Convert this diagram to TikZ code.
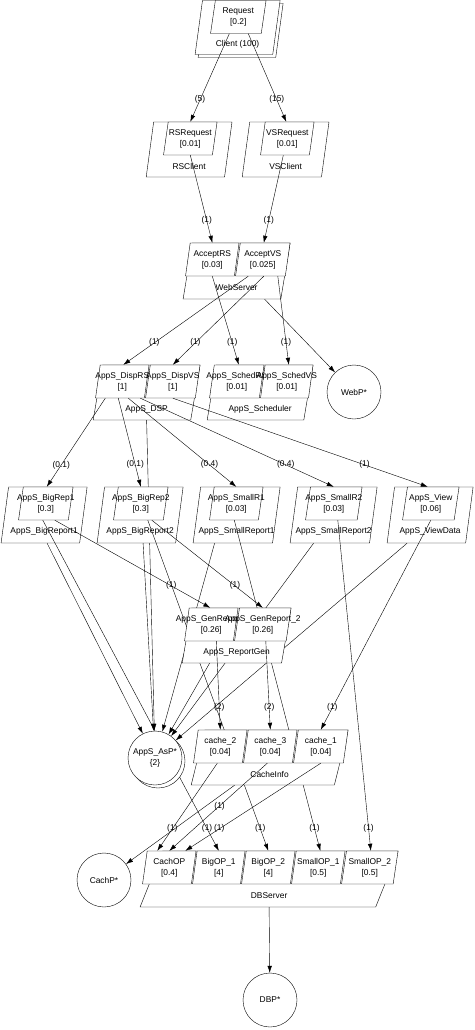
\documentclass[tikz,border=0pt]{standalone}
\usepackage{fontspec}
\setmainfont{Liberation Sans}
\usetikzlibrary{shapes.geometric,arrows.meta,calc}
% one layer for each row of tasks, so a lower row hides the arcs that run behind it
\pgfdeclarelayer{rowClient}
\pgfdeclarelayer{rowWeb}
\pgfdeclarelayer{rowApp}
\pgfdeclarelayer{rowReport}
\pgfdeclarelayer{rowGen}
\pgfdeclarelayer{rowCache}
\pgfdeclarelayer{rowDB}
\pgfsetlayers{rowClient,rowWeb,rowApp,rowReport,rowGen,rowCache,rowDB,main}
\tikzset{
    task/.style={trapezium, trapezium left angle=84, trapezium right angle=96,
        trapezium stretches=true, draw, fill=white, inner sep=1pt, minimum height=55},
    entry/.style={task, minimum height=33},
    proc/.style={circle, draw, fill=white, minimum size=54, inner sep=0pt, align=center},
    call/.style={-{Latex[length=7pt,width=4.5pt]}},
    callnum/.style={inner sep=0pt},
    taskname/.style={yshift=-16.5pt},
}
% call arc with its mean number, set a fixed height above the target
\newcommand{\lqncall}[4][22]{%
    \draw[call] #2 -- #3;
    \path let \p1=#2, \p2=#3, \n1={#1*veclen(\x1-\x2,\y1-(\y2))/(\y1-(\y2))} in
        node[callnum] at ($#3!\n1!#2$) {#4};
}
\begin{document}
\begin{tikzpicture}[x=1pt, y=-1pt, line width=0.75pt, font=\fontsize{8.4}{11}\selectfont,
    every label/.style={align=center, inner sep=0pt}]
    \useasboundingbox (0,0) rectangle (474,1030);

    % reference tasks
    \begin{pgfonlayer}{rowClient}
    \node (clientBack) at (240.6,30.5) [task, minimum height=54, minimum width=85] {};
    \node (client) at (237.6,27.5) [task, minimum height=54, minimum width=85, label={[taskname]center:Client (100)}] {};
    \node (request) at (238.3,17) [entry, minimum width=55.5, label={center:Request\\{[0.2]}}] {};
    \node (rsClient) at (189.1,149.5) [task, minimum width=85.8, label={[taskname]center:RSClient}] {};
    \node (rsReq) at (190.3,138.5) [entry, minimum width=53.5, label={center:RSRequest\\{[0.01]}}] {};
    \node (vsClient) at (285.6,149.5) [task, minimum width=86.8, label={[taskname]center:VSClient}] {};
    \node (vsReq) at (287.3,138.5) [entry, minimum width=53.5, label={center:VSRequest\\{[0.01]}}] {};
    \end{pgfonlayer}

    % web layer
    \begin{pgfonlayer}{rowWeb}
    \node (webServer) at (236.6,271) [task, minimum height=56, minimum width=107, label={[taskname]center:WebServer}] {};
    \node (acceptRS) at (212.3,259.5) [entry, minimum width=53.5, label={center:AcceptRS\\{[0.03]}}] {};
    \node (acceptVS) at (262.8,259.5) [entry, minimum width=54.5, label={center:AcceptVS\\{[0.025]}}] {};
    \end{pgfonlayer}

    % application layer
    \begin{pgfonlayer}{rowApp}
    \node (appsDSP) at (146.6,392.5) [task, minimum width=106.8, label={[taskname]center:AppS\_DSP}] {};
    \node (dispRS) at (122.3,381.5) [entry, minimum width=53.5, label={center:AppS\_DispRS\\{[1]}}] {};
    \node (dispVS) at (172.8,381.5) [entry, minimum width=54.5, label={center:AppS\_DispVS\\{[1]}}] {};
    \node (scheduler) at (260.1,392.5) [task, minimum width=105.8, label={[taskname]center:AppS\_Scheduler}] {};
    \node (schedRS) at (236.8,381.5) [entry, minimum width=54.5, label={center:AppS\_SchedRS\\{[0.01]}}] {};
    \node (schedVS) at (286.8,381.5) [entry, minimum width=52.5, label={center:AppS\_SchedVS\\{[0.01]}}] {};
    \end{pgfonlayer}

    \begin{pgfonlayer}{rowReport}
    \node (bigReport1) at (44.1,515) [task, minimum height=56, minimum width=86, label={[taskname]center:AppS\_BigReport1}] {};
    \node (bigRep1) at (45.8,503.5) [entry, minimum width=54.5, label={center:AppS\_BigRep1\\{[0.3]}}] {};
    \node (bigReport2) at (140.1,515) [task, minimum height=56, minimum width=86, label={[taskname]center:AppS\_BigReport2}] {};
    \node (bigRep2) at (140.8,503.5) [entry, minimum width=54.5, label={center:AppS\_BigRep2\\{[0.3]}}] {};
    \node (smallReport1) at (236.6,515) [task, minimum height=56, minimum width=87, label={[taskname]center:AppS\_SmallReport1}] {};
    \node (smallR1) at (236.3,503.5) [entry, minimum width=53.5, label={center:AppS\_SmallR1\\{[0.03]}}] {};
    \node (smallReport2) at (333.6,515) [task, minimum height=56, minimum width=87, label={[taskname]center:AppS\_SmallReport2}] {};
    \node (smallR2) at (333.8,503.5) [entry, minimum width=56.5, label={center:AppS\_SmallR2\\{[0.03]}}] {};
    \node (viewData) at (430.1,515) [task, minimum height=56, minimum width=86, label={[taskname]center:AppS\_ViewData}] {};
    \node (view) at (430.8,503.5) [entry, minimum width=56.5, label={center:AppS\_View\\{[0.06]}}] {};
    \end{pgfonlayer}

    \begin{pgfonlayer}{rowGen}
    \node (reportGen) at (236.6,635.5) [task, minimum width=108.8, label={[taskname]center:AppS\_ReportGen}] {};
    \node (genRep1) at (211.3,624.5) [entry, minimum width=53.5, label={center:AppS\_GenReport1\\{[0.26]}}] {};
    \node (genRep2) at (262.8,624.5) [entry, minimum width=56.5, label={center:AppS\_GenReport\_2\\{[0.26]}}] {};
    \end{pgfonlayer}

    % cache and database
    \begin{pgfonlayer}{rowCache}
    \node (cacheInfo) at (269.6,757.5) [task, minimum width=156.8, label={[taskname]center:CacheInfo}] {};
    \node (cache2) at (220.3,746.5) [entry, minimum width=53.5, label={center:cache\_2\\{[0.04]}}] {};
    \node (cache3) at (270.3,746.5) [entry, minimum width=53.5, label={center:cache\_3\\{[0.04]}}] {};
    \node (cache1) at (320.8,746.5) [entry, minimum width=54.5, label={center:cache\_1\\{[0.04]}}] {};
    \end{pgfonlayer}

    \begin{pgfonlayer}{rowDB}
    \node (dbServer) at (269.1,879) [task, minimum height=56, minimum width=258, label={[taskname]center:DBServer}] {};
    \node (cachOP) at (169.3,867.5) [entry, minimum width=53.5, label={center:CachOP\\{[0.4]}}] {};
    \node (bigOP1) at (218.8,867.5) [entry, minimum width=52.5, label={center:BigOP\_1\\{[4]}}] {};
    \node (bigOP2) at (268.3,867.5) [entry, minimum width=53.5, label={center:BigOP\_2\\{[4]}}] {};
    \node (smallOP1) at (318.3,867.5) [entry, minimum width=53.5, label={center:SmallOP\_1\\{[0.5]}}] {};
    \node (smallOP2) at (369.8,867.5) [entry, minimum width=56.5, label={center:SmallOP\_2\\{[0.5]}}] {};
    \end{pgfonlayer}

    % processors
    \node (webP) at (354,392) [proc] {WebP*};
    \node (aspBack) at (158,761) [proc] {};
    \node (asp) at (155,758) [proc] {AppS\_AsP*\\\{2\}};
    \node (cachP) at (104,880) [proc] {CachP*};
    \node (dbp) at (270,1000) [proc] {DBP*};

    % arcs, each on the layer of its caller
    \begin{pgfonlayer}{rowClient}
    \lqncall{([xshift=-9]request.south)}{(rsReq.north)}{(5)}
    \lqncall{([xshift=10]request.south)}{([xshift=-1]vsReq.north)}{(15)}
    \lqncall{(rsReq.south)}{(acceptRS.north)}{(1)}
    \lqncall{([xshift=-4]vsReq.south)}{([xshift=1]acceptVS.north)}{(1)}
    \end{pgfonlayer}

    \begin{pgfonlayer}{rowWeb}
    \lqncall{([xshift=36]acceptRS.south)}{([xshift=1]dispRS.north)}{(1)}
    \lqncall{([xshift=1]acceptVS.south)}{(dispVS.north)}{(1)}
    \lqncall{(acceptRS.south)}{([xshift=2]schedRS.north)}{(1)}
    \lqncall{([xshift=15]acceptVS.south)}{([xshift=2]schedVS.north)}{(1)}
    \draw[call] ([xshift=28]webServer.south) -- (webP);
    \end{pgfonlayer}

    \begin{pgfonlayer}{rowApp}
    \lqncall{([xshift=-17]dispRS.south)}{([xshift=1]bigRep1.north)}{(0.1)}
    \lqncall{([xshift=-4]dispRS.south)}{(bigRep2.north)}{(0.1)}
    \lqncall{([xshift=6]dispRS.south)}{(smallR1.north)}{(0.4)}
    \lqncall{([xshift=18]dispRS.south)}{(smallR2.north)}{(0.4)}
    \lqncall{(dispVS.south)}{([xshift=-3]view.north)}{(1)}
    \draw[call] (appsDSP.south) -- (asp);
    \end{pgfonlayer}

    \begin{pgfonlayer}{rowReport}
    \lqncall{([xshift=9]bigRep1.south)}{([xshift=-1]genRep1.north)}{(1)}
    \lqncall{([xshift=-3]bigRep1.south)}{(bigOP1.north)}{(1)}
    \draw[call] ([xshift=3]bigReport1.south) -- (asp);
    \lqncall{([xshift=11]bigRep2.south)}{(genRep2.north)}{(1)}
    \lqncall{([xshift=7]bigRep2.south)}{(bigOP2.north)}{(1)}
    \draw[call] ([xshift=3]bigReport2.south) -- (asp);
    \lqncall{([xshift=-2]smallR1.south)}{([xshift=2]smallOP1.north)}{(1)}
    \draw[call] ([xshift=-22]smallReport1.south) -- (asp);
    \lqncall{([xshift=4]smallR2.south)}{([xshift=1]smallOP2.north)}{(1)}
    \draw[call] ([xshift=-20]smallReport2.south) -- (asp);
    \lqncall{(view.south)}{(cache1.north)}{(1)}
    \draw[call] ([xshift=-23]viewData.south) -- (asp);
    \end{pgfonlayer}

    \begin{pgfonlayer}{rowGen}
    \lqncall{([xshift=5]genRep1.south)}{(cache2.north)}{(2)}
    \lqncall{([xshift=3]genRep2.south)}{(cache3.north)}{(2)}
    \draw[call] ([xshift=-27]reportGen.south) -- (asp);
    \end{pgfonlayer}

    \begin{pgfonlayer}{rowCache}
    \lqncall{([xshift=-3]cache2.south)}{([xshift=-12]cachOP.north)}{(1)}
    \lqncall[45]{([xshift=-3]cache3.south)}{(cachOP.north)}{(1)}
    \lqncall{(cache1.south)}{([xshift=16]cachOP.north)}{(1)}
    \draw[call] ([xshift=-35]cacheInfo.south) -- (cachP);
    \end{pgfonlayer}

    \begin{pgfonlayer}{rowDB}
    \draw[call] (dbServer.south) -- (dbp);
    \end{pgfonlayer}
\end{tikzpicture}
\end{document}
